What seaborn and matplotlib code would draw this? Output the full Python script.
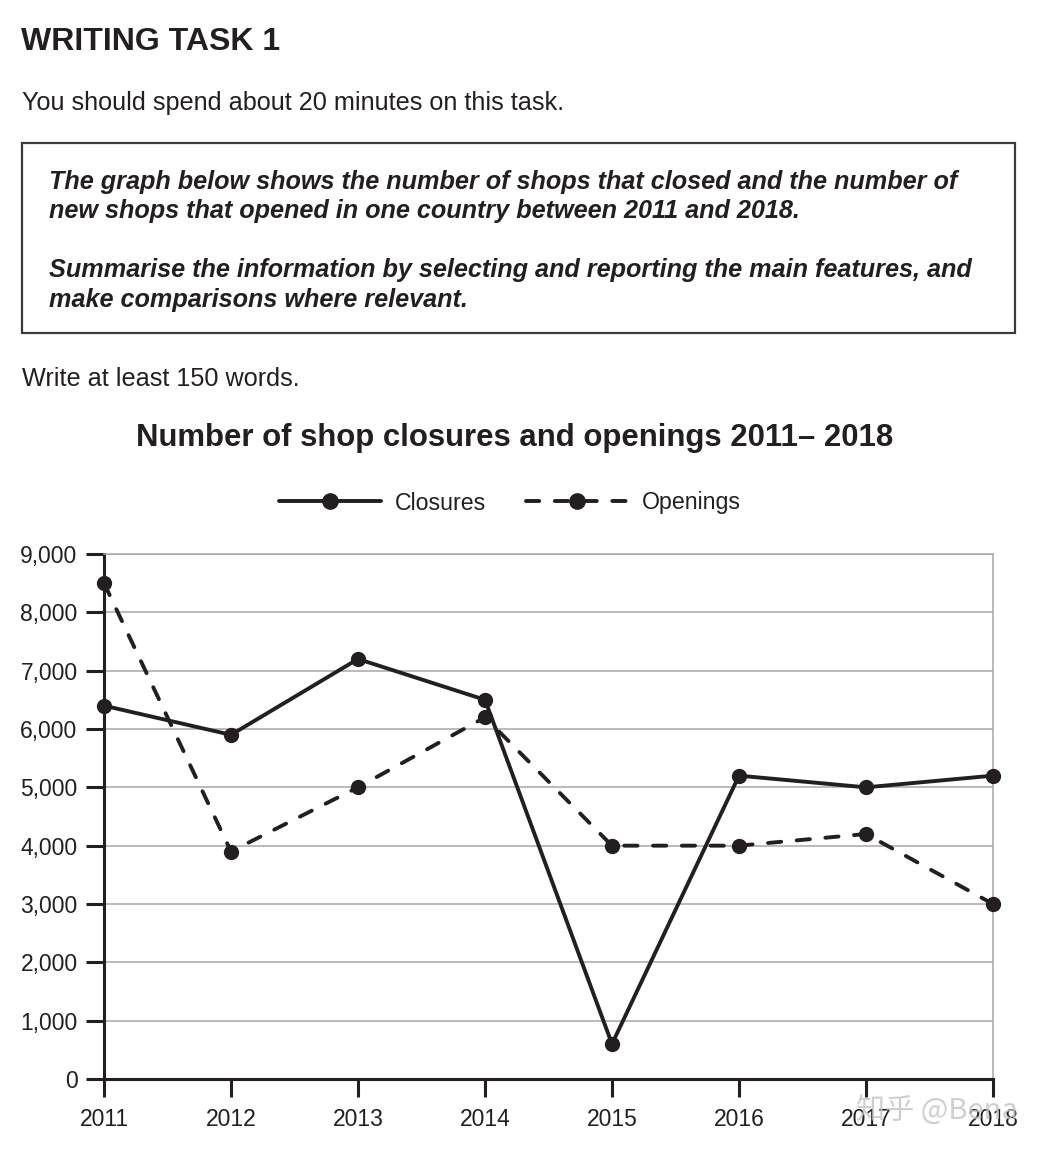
# IELTS writing task 1 - shop closures and openings line graph
import pandas as pd
import matplotlib.pyplot as plt
from matplotlib.patches import Rectangle
from matplotlib.lines import Line2D
import seaborn as sns

years = [2011, 2012, 2013, 2014, 2015, 2016, 2017, 2018]
closures = [6400, 5900, 7200, 6500, 600, 5200, 5000, 5200]
openings = [8500, 3900, 5000, 6200, 4000, 4000, 4200, 3000]
yticks = [0, 1000, 2000, 3000, 4000, 5000, 6000, 7000, 8000, 9000]

df = pd.DataFrame({'year': years, 'Closures': closures, 'Openings': openings})

sns.set_style('white')
plt.rcParams['font.family'] = ['Liberation Sans', 'DejaVu Sans']

W, H = 1063, 1159
fig = plt.figure(figsize=(W / 100, H / 100), dpi=100)

def fx(px):
    return px / W

def fy(py):
    return 1 - py / H

ink = '#231f20'
dash = (0, (3.4, 4.0))

# header texts
fig.text(fx(21), fy(42), 'WRITING TASK 1', fontsize=23, fontweight='bold',
         color=ink, va='center', ha='left')
fig.text(fx(22), fy(103), 'You should spend about 20 minutes on this task.',
         fontsize=18.2, color=ink, va='center', ha='left')
fig.patches.append(Rectangle((fx(22), fy(333)), fx(1015) - fx(22), fy(143) - fy(333),
                             transform=fig.transFigure, fill=False,
                             edgecolor='#3a3a3a', linewidth=1.6))
box_lines = [
    (182, 'The graph below shows the number of shops that closed and the number of'),
    (211, 'new shops that opened in one country between 2011 and 2018.'),
    (270, 'Summarise the information by selecting and reporting the main features, and'),
    (300, 'make comparisons where relevant.'),
]
for py, s in box_lines:
    fig.text(fx(49), fy(py), s, fontsize=18.2, fontweight='bold', fontstyle='italic',
             color=ink, va='center', ha='left')
fig.text(fx(22), fy(379), 'Write at least 150 words.',
         fontsize=18.2, color=ink, va='center', ha='left')

# chart title
fig.text(fx(515), fy(438), 'Number of shop closures and openings 2011\u2013 2018',
         fontsize=22.4, fontweight='bold', color=ink, va='center', ha='center')

# axes
ax = fig.add_axes([fx(104), fy(1079), fx(993) - fx(104), fy(554) - fy(1079)])

sns.lineplot(data=df, x='year', y='Closures', ax=ax, color=ink, linewidth=2.8,
             marker='o', markersize=11, markeredgewidth=0, clip_on=False, zorder=5)
sns.lineplot(data=df, x='year', y='Openings', ax=ax, color=ink, linewidth=2.8,
             marker='o', markersize=11, markeredgewidth=0, clip_on=False, zorder=5,
             linestyle=dash, dash_capstyle='round')

ax.set_xlim(2011, 2018)
ax.set_ylim(0, 9000)
ax.set_xticks(years)
ax.set_xticklabels([str(y) for y in years])
ax.set_yticks(yticks)
ax.set_yticklabels(['{:,}'.format(v) for v in yticks])
ax.set_xlabel('')
ax.set_ylabel('')
ax.grid(axis='y', color='#a7a7a7', linewidth=1.1)
ax.grid(axis='x', visible=False)
ax.set_axisbelow(True)

for side in ['left', 'bottom']:
    ax.spines[side].set_color(ink)
    ax.spines[side].set_linewidth(2.2)
for side in ['top', 'right']:
    ax.spines[side].set_color('#a7a7a7')
    ax.spines[side].set_linewidth(1.1)

ax.tick_params(axis='both', direction='out', length=13, width=2.2, color=ink,
               labelsize=16.5, labelcolor=ink, left=True, bottom=True)
ax.tick_params(axis='y', pad=6)
ax.tick_params(axis='x', pad=8)

# legend
handles = [
    Line2D([], [], color=ink, linewidth=2.8, marker='o', markersize=11),
    Line2D([], [], color=ink, linewidth=2.8, marker='o', markersize=11,
           linestyle=dash, dash_capstyle='round'),
]
ax.legend(handles=handles, labels=['Closures', 'Openings'], loc='center',
          bbox_to_anchor=((510 - 104) / (993 - 104), 1 + (554 - 503) / (1079 - 554)),
          bbox_transform=ax.transAxes, ncol=2, frameon=False, fontsize=16.7,
          handlelength=4.4, handletextpad=0.6, columnspacing=1.7,
          labelcolor=ink)

# watermark
fig.text(fx(856), fy(1112), '知乎 @Bena', fontsize=21, color='#c4c4c4', alpha=0.8,
         va='center', ha='left',
         family=['Noto Sans CJK SC', 'DejaVu Sans'])

fig.savefig('out.png', dpi=100)
